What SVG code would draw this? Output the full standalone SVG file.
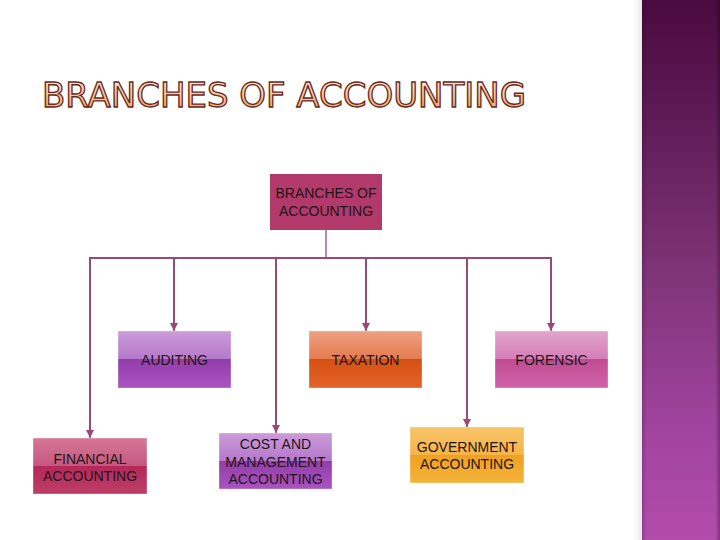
<svg xmlns="http://www.w3.org/2000/svg" width="720" height="540" viewBox="0 0 720 540">
<defs>
<linearGradient id="bar" x1="0" y1="0" x2="0" y2="1">
<stop offset="0" stop-color="#4A0B40"/>
<stop offset="0.2" stop-color="#5C1A54"/>
<stop offset="0.5" stop-color="#7E3476"/>
<stop offset="0.8" stop-color="#A144A0"/>
<stop offset="1" stop-color="#B24CAA"/>
</linearGradient>
<linearGradient id="barEdge" x1="0" y1="0" x2="1" y2="0">
<stop offset="0" stop-color="#000" stop-opacity="0.18"/>
<stop offset="0.06" stop-color="#000" stop-opacity="0"/>
<stop offset="0.94" stop-color="#000" stop-opacity="0"/>
<stop offset="1" stop-color="#000" stop-opacity="0.3"/>
</linearGradient>
<linearGradient id="shadow" x1="0" y1="0" x2="1" y2="0">
<stop offset="0" stop-color="#fff" stop-opacity="0"/>
<stop offset="1" stop-color="#d8d8d8" stop-opacity="0.6"/>
</linearGradient>
<linearGradient id="title" x1="0" y1="0" x2="0" y2="1">
<stop offset="0" stop-color="#FDF0E6"/>
<stop offset="0.5" stop-color="#F8C8A0"/>
<stop offset="1" stop-color="#EE9A50"/>
</linearGradient>
<linearGradient id="gPurple" x1="0" y1="0" x2="0" y2="1">
<stop offset="0" stop-color="#CC9CDA"/>
<stop offset="0.5" stop-color="#B478CA"/>
<stop offset="0.5" stop-color="#933DAA"/>
<stop offset="1" stop-color="#A853C0"/>
</linearGradient>
<linearGradient id="gOrange" x1="0" y1="0" x2="0" y2="1">
<stop offset="0" stop-color="#EEA080"/>
<stop offset="0.5" stop-color="#E47A50"/>
<stop offset="0.5" stop-color="#D65012"/>
<stop offset="1" stop-color="#E2632A"/>
</linearGradient>
<linearGradient id="gPink" x1="0" y1="0" x2="0" y2="1">
<stop offset="0" stop-color="#E2A4CC"/>
<stop offset="0.5" stop-color="#D47EB6"/>
<stop offset="0.5" stop-color="#BF4C92"/>
<stop offset="1" stop-color="#D062AA"/>
</linearGradient>
<linearGradient id="gCrimson" x1="0" y1="0" x2="0" y2="1">
<stop offset="0" stop-color="#D67898"/>
<stop offset="0.5" stop-color="#C5577E"/>
<stop offset="0.5" stop-color="#B42858"/>
<stop offset="1" stop-color="#BE3E68"/>
</linearGradient>
<linearGradient id="gGold" x1="0" y1="0" x2="0" y2="1">
<stop offset="0" stop-color="#F8C468"/>
<stop offset="0.5" stop-color="#F5B448"/>
<stop offset="0.5" stop-color="#EFA020"/>
<stop offset="1" stop-color="#F4B43C"/>
</linearGradient>
<marker id="arr" viewBox="0 0 8 8" refX="8" refY="4" markerWidth="8" markerHeight="8" markerUnits="userSpaceOnUse" orient="auto">
<path d="M0,0 L8,4 L0,8 Z" fill="#9A4878"/>
</marker>
</defs>
<style>
.lbl{font-family:"Liberation Sans",Arial,sans-serif;font-size:14px;fill:#1E1418;text-anchor:middle}
.box{stroke:#ffffff;stroke-opacity:0.35;stroke-width:1}
.ln{stroke:#9A4878;stroke-width:2;fill:none}
</style>
<rect x="0" y="0" width="720" height="540" fill="#ffffff"/>
<rect x="630" y="0" width="12" height="540" fill="url(#shadow)"/>
<rect x="642" y="0" width="78" height="540" fill="url(#bar)"/>
<rect x="642" y="0" width="78" height="540" fill="url(#barEdge)"/>
<text x="42" y="107" textLength="484" lengthAdjust="spacingAndGlyphs" style="font-family:'DejaVu Sans',Verdana,sans-serif;font-size:33px;fill:url(#title);stroke:#6A2A1C;stroke-width:1.3">BRANCHES OF ACCOUNTING</text>
<g id="connectors">
<line class="ln" x1="326" y1="230" x2="326" y2="258" style="stroke-width:1.3"/>
<line class="ln" x1="89" y1="258" x2="552" y2="258"/>
<line class="ln" x1="90" y1="257" x2="90" y2="438" marker-end="url(#arr)"/>
<line class="ln" x1="174" y1="257" x2="174" y2="331" marker-end="url(#arr)"/>
<line class="ln" x1="276" y1="257" x2="276" y2="433" marker-end="url(#arr)"/>
<line class="ln" x1="366" y1="257" x2="366" y2="331" marker-end="url(#arr)"/>
<line class="ln" x1="467" y1="257" x2="467" y2="427" marker-end="url(#arr)"/>
<line class="ln" x1="551" y1="257" x2="551" y2="331" marker-end="url(#arr)"/>
</g>
<g id="root">
<rect x="270" y="174" width="112" height="56" fill="#B23A6A"/>
<text class="lbl" x="326" y="198">BRANCHES OF</text>
<text class="lbl" x="326" y="216">ACCOUNTING</text>
</g>
<g id="auditing">
<rect class="box" x="118" y="331" width="113" height="57" fill="url(#gPurple)"/>
<text class="lbl" x="174.5" y="365">AUDITING</text>
</g>
<g id="taxation">
<rect class="box" x="309" y="331" width="113" height="57" fill="url(#gOrange)"/>
<text class="lbl" x="365.5" y="365">TAXATION</text>
</g>
<g id="forensic">
<rect class="box" x="495" y="331" width="113" height="57" fill="url(#gPink)"/>
<text class="lbl" x="551.5" y="365">FORENSIC</text>
</g>
<g id="financial">
<rect class="box" x="33" y="438" width="114" height="56" fill="url(#gCrimson)"/>
<text class="lbl" x="90" y="464">FINANCIAL</text>
<text class="lbl" x="90" y="481">ACCOUNTING</text>
</g>
<g id="cost">
<rect class="box" x="219" y="433" width="113" height="56" fill="url(#gPurple)"/>
<text class="lbl" x="275.5" y="449">COST  AND</text>
<text class="lbl" x="275.5" y="467">MANAGEMENT</text>
<text class="lbl" x="275.5" y="484">ACCOUNTING</text>
</g>
<g id="government">
<rect class="box" x="410" y="427" width="114" height="56" fill="url(#gGold)"/>
<text class="lbl" x="467" y="451.5">GOVERNMENT</text>
<text class="lbl" x="467" y="469">ACCOUNTING</text>
</g>
</svg>
